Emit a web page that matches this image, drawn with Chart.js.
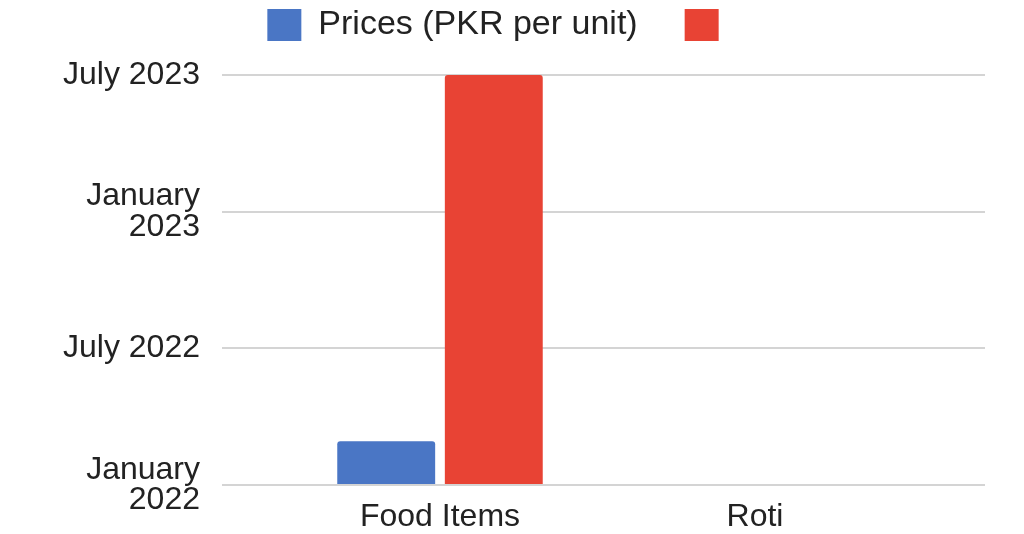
<!DOCTYPE html>
<html>
<head>
<meta charset="utf-8">
<script src="https://cdn.jsdelivr.net/npm/chart.js@4/dist/chart.umd.min.js"></script>
<style>
  html, body { margin: 0; padding: 0; background: #fff; }
  #wrap { width: 1024px; height: 534px; }
</style>
</head>
<body>
<div id="wrap"><canvas id="barChart"></canvas></div>
<script>
var categories = ['Food Items', 'Roti'];
var priceValues = [0.32, null];
var otherValues = [3.0, null];
var yTickLabels = [['January', '2022'], 'July 2022', ['January', '2023'], 'July 2023'];

var textFont = { family: 'Liberation Sans, Arial, sans-serif', size: 32, lineHeight: 0.95 };

function toPoints(values) {
  return values.map(function (v, i) { return { x: i, y: v }; });
}

// legend padding doubles as item spacing, so give the legend a fixed height
var legendHeight = {
  id: 'legendHeight',
  beforeLayout: function (chart) {
    var legend = chart.legend;
    if (!legend || legend._fixedFit) return;
    var fit = legend.fit;
    legend.fit = function () {
      fit.call(this);
      this.height = 114;
    };
    legend._fixedFit = true;
  }
};

var barChart = new Chart(document.getElementById('barChart'), {
  type: 'bar',
  data: {
    datasets: [
      {
        label: 'Prices (PKR per unit)',
        backgroundColor: '#4a76c5',
        borderRadius: 3,
        borderSkipped: 'bottom',
        data: toPoints(priceValues)
      },
      {
        label: '',
        backgroundColor: '#e84334',
        borderRadius: 3,
        borderSkipped: 'bottom',
        data: toPoints(otherValues)
      }
    ]
  },
  options: {
    responsive: true,
    maintainAspectRatio: false,
    animation: false,
    categoryPercentage: 0.683,
    barPercentage: 0.91,
    layout: { padding: { left: 18, right: 39, top: -39, bottom: 0 } },
    plugins: {
      tooltip: { enabled: false },
      legend: {
        position: 'top',
        labels: {
          boxWidth: 34,
          boxHeight: 32,
          padding: 47,
          color: '#222',
          font: { family: textFont.family, size: 34, lineHeight: 0.95 }
        }
      }
    },
    scales: {
      x: {
        type: 'linear',
        offset: false,
        min: -0.692,
        max: 1.730,
        grid: { display: false },
        border: { display: false },
        afterBuildTicks: function (scale) {
          scale.ticks = categories.map(function (c, i) { return { value: i }; });
        },
        afterFit: function (scale) { scale.height = 49; },
        ticks: {
          padding: 9,
          color: '#222',
          font: textFont,
          maxRotation: 0,
          autoSkip: false,
          callback: function (v) { return categories[v]; }
        }
      },
      y: {
        min: 0,
        max: 3,
        afterFit: function (scale) {
          scale.width = 204;
          scale.paddingBottom = 0;
        },
        grid: { color: '#d4d4d4', lineWidth: 2, drawTicks: false },
        border: { display: false },
        ticks: {
          stepSize: 1,
          padding: 22,
          color: '#222',
          font: textFont,
          callback: function (v) { return yTickLabels[v]; }
        }
      }
    }
  },
  plugins: [legendHeight]
});
</script>
</body>
</html>
